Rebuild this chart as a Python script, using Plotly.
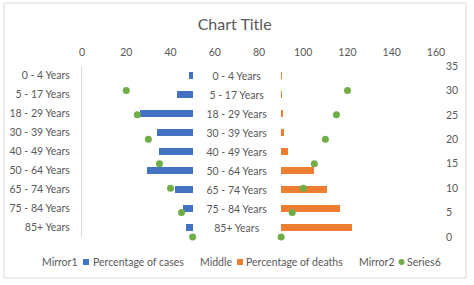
import plotly.graph_objects as go

# ---------------- data ----------------
categories = ["0 - 4 Years", "5 - 17 Years", "18 - 29 Years", "30 - 39 Years",
              "40 - 49 Years", "50 - 64 Years", "65 - 74 Years", "75 - 84 Years",
              "85+ Years"]
mirror1 = [48.5, 43.0, 26.3, 33.8, 34.8, 29.2, 42.0, 45.5, 46.9]
cases = [1.5, 7.0, 23.7, 16.2, 15.2, 20.8, 8.0, 4.5, 3.1]
middle = [40, 40, 40, 40, 40, 40, 40, 40, 40]
deaths = [0.1, 0.1, 0.5, 1.4, 3.0, 14.8, 20.9, 26.8, 32.1]
mirror2 = [49.9, 49.9, 49.5, 48.6, 47.0, 35.2, 29.1, 23.2, 17.9]
series6_x = [20, 25, 30, 35, 40, 45, 50, 90, 95, 100, 105, 110, 115, 120]
series6_y = [30, 25, 20, 15, 10, 5, 0, 0, 5, 10, 15, 20, 25, 30]
x_ticks = [0, 20, 40, 60, 80, 100, 120, 140, 160]
y2_ticks = [0, 5, 10, 15, 20, 25, 30, 35]
legend_names = ["Mirror1", "Percentage of cases", "Middle",
                "Percentage of deaths", "Mirror2", "Series6"]

# ---------------- style ----------------
FONT = "Lato"
FS = 10.5
GREY = "#595959"
BLUE = "#4472C4"
ORANGE = "#ED7D31"
GREEN = "#70AD47"
CLEAR = "rgba(0,0,0,0)"

W, H = 474, 285
L, R, T, B = 82, 436, 66, 237  # plot area in px


def px_x(px):
    return (px - L) / (R - L)


def px_y(py):
    return (B - py) / (B - T)


fig = go.Figure()

bar_common = dict(orientation="h", y=categories, showlegend=False,
                  hoverinfo="skip", cliponaxis=False)

fig.add_trace(go.Bar(name=legend_names[0], x=mirror1,
                     marker=dict(color=CLEAR, line=dict(width=0)), **bar_common))
fig.add_trace(go.Bar(name=legend_names[1], x=cases,
                     marker=dict(color=BLUE, line=dict(width=0)), **bar_common))
fig.add_trace(go.Bar(name=legend_names[2], x=middle,
                     marker=dict(color=CLEAR, line=dict(width=0)),
                     text=categories, textposition="inside",
                     insidetextanchor="middle", constraintext="none",
                     textfont=dict(family=FONT, size=FS, color=GREY),
                     **bar_common))
fig.add_trace(go.Bar(name=legend_names[3], x=deaths,
                     marker=dict(color=ORANGE, line=dict(width=0)), **bar_common))
fig.add_trace(go.Bar(name=legend_names[4], x=mirror2,
                     marker=dict(color=CLEAR, line=dict(width=0)), **bar_common))
fig.add_trace(go.Scatter(name=legend_names[5], x=series6_x, y=series6_y,
                         yaxis="y2", mode="markers", cliponaxis=False,
                         marker=dict(color=GREEN, size=7, line=dict(width=0)),
                         showlegend=False))

# ---------------- custom legend (Excel-like compact layout) ----------------
legend_text_x = [40, 90.5, 197.5, 244, 357, 404.5]
legend_y = 262
annotations = []
for name, tx in zip(legend_names, legend_text_x):
    annotations.append(dict(text=name, x=px_x(tx), y=px_y(legend_y),
                            xref="paper", yref="paper", xanchor="left",
                            yanchor="middle", showarrow=False,
                            font=dict(family=FONT, size=FS, color=GREY)))

shapes = [
    # chart area border
    dict(type="rect", xref="paper", yref="paper", x0=px_x(4), x1=px_x(466),
         y0=px_y(278), y1=px_y(3), line=dict(color="#D9D9D9", width=1),
         layer="below"),
    # legend symbols
    dict(type="rect", xref="paper", yref="paper", x0=px_x(83), x1=px_x(89),
         y0=px_y(265), y1=px_y(259), fillcolor=BLUE, line=dict(width=0)),
    dict(type="rect", xref="paper", yref="paper", x0=px_x(237), x1=px_x(243),
         y0=px_y(265), y1=px_y(259), fillcolor=ORANGE, line=dict(width=0)),
    dict(type="circle", xref="paper", yref="paper", x0=px_x(398.5), x1=px_x(404.5),
         y0=px_y(265), y1=px_y(259), fillcolor=GREEN, line=dict(width=0)),
]

fig.update_layout(
    template="none",
    width=W, height=H,
    margin=dict(l=L, r=W - R, t=T, b=H - B, pad=0, autoexpand=False),
    paper_bgcolor="white", plot_bgcolor="white",
    barmode="stack", bargap=0.6,
    showlegend=False,
    font=dict(family=FONT, size=FS, color=GREY),
    title=dict(text="Chart Title", x=0.495, xref="container", xanchor="center",
               y=1 - 24 / H, yref="container", yanchor="middle",
               font=dict(family=FONT, size=16, color=GREY)),
    xaxis=dict(side="top", range=[0, 160], tickvals=x_ticks, showgrid=False,
               zeroline=False, showline=False, ticks="", ticklabelstandoff=7,
               automargin=False,
               tickfont=dict(family=FONT, size=FS, color=GREY), fixedrange=True),
    yaxis=dict(type="category", autorange="reversed", showgrid=False,
               zeroline=False, showline=True, linecolor="#D9D9D9", linewidth=1,
               ticks="", ticklabelstandoff=9, automargin=False,
               tickfont=dict(family=FONT, size=FS, color=GREY)),
    yaxis2=dict(overlaying="y", side="right", range=[0, 35], tickvals=y2_ticks,
                showgrid=False, zeroline=False, showline=False, ticks="",
                ticklabelstandoff=9, automargin=False,
                tickfont=dict(family=FONT, size=FS, color=GREY)),
    annotations=annotations,
    shapes=shapes,
)

fig.write_html("out.html")
